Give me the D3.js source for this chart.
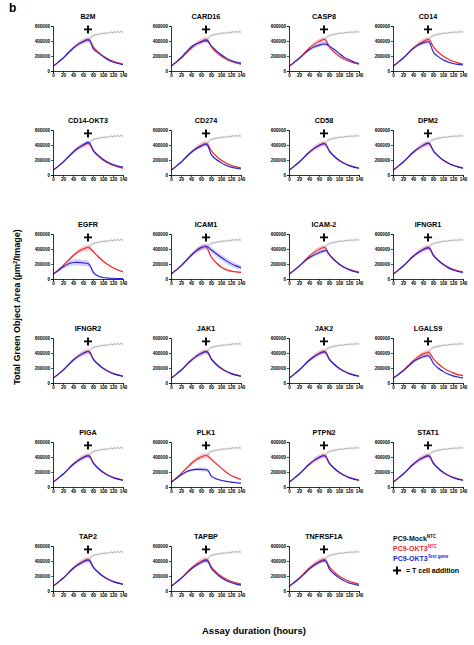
<!DOCTYPE html>
<html>
<head>
<meta charset="utf-8">
<script src="https://cdn.jsdelivr.net/npm/d3@7"></script>
<style>
  body { margin: 0; background: #fff; }
  text { font-family: "Liberation Sans", Arial, sans-serif; }
</style>
</head>
<body>
<div id="chart-area"></div>
<script>
// time points (hours)
var hours = [0, 10, 20, 30, 40, 50, 60, 70, 74, 80, 90, 100, 110, 120, 130, 140];
var mockHours = [0, 10, 20, 30, 40, 50, 60, 70, 72, 74, 76, 78, 80, 82, 84, 86, 88, 90, 92, 94, 96, 98, 100,
                 102, 104, 106, 108, 110, 112, 114, 116, 118, 120, 122, 124, 126, 128, 130, 132, 134, 136, 138, 140];

var xTicks = [0, 20, 40, 60, 80, 100, 120, 140];
var yTicks = [0, 200000, 400000, 600000];
var tCellHour = 70;

// PC9-Mock NTC (grey)
var mockNTC = [62000, 115000, 170000, 235000, 300000, 355000, 395000, 420000, 432000, 426000, 458000, 470000, 462000,
               484000, 472000, 492000, 478000, 496000, 484000, 502000, 488000, 506000, 494000, 512000, 496000, 514000,
               500000, 504000, 520000, 502000, 516000, 522000, 504000, 520000, 528000, 508000, 522000, 530000, 510000,
               524000, 532000, 512000, 526000];

// PC9-OKT3 NTC (red), shared shape + a few panels that differ
var okt3NTC      = [62000, 115000, 170000, 235000, 300000, 355000, 395000, 420000, 405000, 330000, 255000, 200000, 160000, 130000, 108000, 92000];
var okt3NTC_EGFR = [62000, 118000, 178000, 245000, 310000, 365000, 400000, 420000, 410000, 370000, 300000, 240000, 190000, 150000, 120000, 95000];
var okt3NTC_PLK1 = [62000, 118000, 178000, 245000, 310000, 365000, 400000, 420000, 410000, 375000, 315000, 255000, 200000, 155000, 125000, 100000];
var okt3NTC_ICAM1 = [62000, 118000, 175000, 245000, 315000, 375000, 415000, 430000, 390000, 300000, 220000, 160000, 125000, 105000, 95000, 88000];
var okt3NTC_LGALS9 = [62000, 112000, 165000, 228000, 290000, 345000, 385000, 405000, 395000, 330000, 260000, 205000, 165000, 135000, 112000, 98000];

// error (sd) for bands
var sdNTC  = [6000, 9000, 12000, 17000, 22000, 28000, 34000, 36000, 32000, 20000, 15000, 13000, 11000, 10000, 9000, 9000];
var sdTest = [5000, 7000, 9000, 12000, 16000, 20000, 24000, 26000, 24000, 16000, 12000, 10000, 9000, 8000, 7000, 7000];
var sdTest_EGFR  = [6000, 15000, 25000, 35000, 40000, 42000, 42000, 40000, 35000, 20000, 10000, 6000, 4000, 3000, 3000, 3000];
var sdTest_ICAM1 = [6000, 10000, 15000, 20000, 25000, 30000, 32000, 30000, 35000, 38000, 40000, 40000, 40000, 38000, 35000, 32000];

// PC9-OKT3 test gene (blue)
var testB2M      = [62000, 116000, 172000, 240000, 305000, 355000, 390000, 415000, 400000, 300000, 245000, 195000, 150000, 120000, 100000, 85000];
var testCARD16   = [62000, 118000, 178000, 250000, 320000, 360000, 385000, 405000, 395000, 340000, 275000, 220000, 175000, 140000, 120000, 105000];
var testCASP8    = [60000, 112000, 165000, 225000, 280000, 320000, 345000, 360000, 358000, 335000, 290000, 235000, 185000, 150000, 120000, 100000];
var testCD14     = [62000, 115000, 170000, 235000, 298000, 345000, 375000, 390000, 370000, 260000, 195000, 150000, 120000, 100000, 88000, 80000];
var testCD14OKT3 = [62000, 115000, 172000, 238000, 305000, 360000, 400000, 435000, 420000, 335000, 265000, 210000, 170000, 140000, 120000, 105000];
var testCD274    = [62000, 115000, 172000, 238000, 300000, 350000, 385000, 410000, 385000, 280000, 210000, 165000, 130000, 105000, 90000, 80000];
var testCD58     = [62000, 115000, 170000, 235000, 300000, 352000, 392000, 418000, 400000, 325000, 250000, 195000, 155000, 125000, 105000, 90000];
var testDPM2     = [62000, 115000, 170000, 235000, 300000, 352000, 395000, 425000, 410000, 330000, 255000, 200000, 160000, 130000, 108000, 92000];
var testEGFR     = [60000, 110000, 160000, 200000, 220000, 222000, 215000, 205000, 180000, 95000, 40000, 20000, 12000, 9000, 7000, 6000];
var testICAM1    = [62000, 118000, 175000, 245000, 315000, 375000, 420000, 440000, 425000, 390000, 340000, 290000, 245000, 205000, 175000, 150000];
var testICAM2    = [62000, 115000, 168000, 230000, 280000, 320000, 350000, 375000, 380000, 330000, 260000, 200000, 155000, 125000, 100000, 85000];
var testIFNGR1   = [62000, 115000, 170000, 235000, 300000, 350000, 390000, 415000, 400000, 320000, 250000, 195000, 150000, 120000, 100000, 88000];
var testIFNGR2   = [62000, 115000, 172000, 238000, 305000, 355000, 395000, 420000, 405000, 320000, 250000, 195000, 155000, 125000, 105000, 90000];
var testJAK1     = [62000, 115000, 170000, 235000, 300000, 352000, 392000, 418000, 405000, 325000, 250000, 195000, 155000, 125000, 105000, 90000];
var testJAK2     = [62000, 115000, 170000, 235000, 300000, 350000, 390000, 415000, 400000, 320000, 250000, 195000, 155000, 125000, 105000, 90000];
var testLGALS9   = [60000, 110000, 160000, 220000, 280000, 320000, 350000, 365000, 345000, 270000, 200000, 155000, 120000, 95000, 80000, 68000];
var testPIGA     = [62000, 115000, 170000, 235000, 300000, 350000, 390000, 415000, 400000, 325000, 250000, 195000, 155000, 125000, 105000, 90000];
var testPLK1     = [60000, 110000, 160000, 200000, 225000, 235000, 235000, 230000, 220000, 150000, 110000, 90000, 75000, 65000, 57000, 50000];
var testPTPN2    = [62000, 115000, 170000, 235000, 300000, 352000, 392000, 418000, 400000, 320000, 250000, 195000, 155000, 125000, 105000, 90000];
var testSTAT1    = [62000, 115000, 170000, 235000, 300000, 352000, 390000, 415000, 402000, 322000, 250000, 195000, 155000, 125000, 105000, 90000];
var testTAP2     = [62000, 115000, 170000, 235000, 300000, 350000, 388000, 410000, 395000, 320000, 250000, 195000, 155000, 125000, 105000, 90000];
var testTAPBP    = [60000, 112000, 165000, 228000, 290000, 340000, 380000, 405000, 395000, 310000, 235000, 180000, 140000, 112000, 92000, 78000];
var testTNFRSF1A = [58000, 110000, 162000, 225000, 288000, 340000, 380000, 405000, 395000, 300000, 230000, 175000, 135000, 108000, 90000, 75000];

var panels = [
    { name: "B2M",       test: testB2M },
    { name: "CARD16",    test: testCARD16 },
    { name: "CASP8",     test: testCASP8 },
    { name: "CD14",      test: testCD14 },
    { name: "CD14-OKT3", test: testCD14OKT3 },
    { name: "CD274",     test: testCD274 },
    { name: "CD58",      test: testCD58 },
    { name: "DPM2",      test: testDPM2 },
    { name: "EGFR",      test: testEGFR,  ntc: okt3NTC_EGFR, sd: sdTest_EGFR },
    { name: "ICAM1",     test: testICAM1, ntc: okt3NTC_ICAM1, sd: sdTest_ICAM1 },
    { name: "ICAM-2",    test: testICAM2 },
    { name: "IFNGR1",    test: testIFNGR1 },
    { name: "IFNGR2",    test: testIFNGR2 },
    { name: "JAK1",      test: testJAK1 },
    { name: "JAK2",      test: testJAK2 },
    { name: "LGALS9",    test: testLGALS9, ntc: okt3NTC_LGALS9 },
    { name: "PIGA",      test: testPIGA },
    { name: "PLK1",      test: testPLK1,  ntc: okt3NTC_PLK1 },
    { name: "PTPN2",     test: testPTPN2 },
    { name: "STAT1",     test: testSTAT1 },
    { name: "TAP2",      test: testTAP2 },
    { name: "TAPBP",     test: testTAPBP },
    { name: "TNFRSF1A",  test: testTNFRSF1A }
];

var colX = [53, 171, 289, 393];
var plotW = 70;
var plotH = 45;
var firstTop = 26;
var rowStep = 104;

var svg = d3.select("#chart-area")
            .append("svg")
            .attr("width", 474)
            .attr("height", 645);

svg.append("rect").attr("width", 474).attr("height", 645).attr("fill", "#fff");

// panel letter
svg.append("text")
   .attr("x", 9).attr("y", 12)
   .attr("font-size", "12px").attr("font-weight", "bold")
   .text("b");

function drawPanel(p, i)
{
    var col = i % 4;
    var row = Math.floor(i / 4);
    var x0 = colX[col];
    var top = firstTop + row * rowStep;

    var x = d3.scaleLinear().domain([0, 140]).range([x0, x0 + plotW]);
    var y = d3.scaleLinear().domain([0, 600000]).range([top + plotH, top]);

    var g = svg.append("g");

    var ntc = p.ntc || okt3NTC;
    var sdT = p.sd || sdTest;

    var band = d3.area()
                 .x((d) => x(d.t))
                 .y0((d) => y(Math.max(0, d.v - d.s)))
                 .y1((d) => y(d.v + d.s))
                 .curve(d3.curveMonotoneX);
    var line = d3.line()
                 .x((d) => x(d.t))
                 .y((d) => y(d.v))
                 .curve(d3.curveMonotoneX);

    var mockData = mockHours.map((t, k) => ({ t: t, v: mockNTC[k] }));
    var ntcData  = hours.map((t, k) => ({ t: t, v: ntc[k], s: sdNTC[k] }));
    var testData = hours.map((t, k) => ({ t: t, v: p.test[k], s: sdT[k] }));

    // grey mock with little error whiskers
    g.selectAll(".whisk").data(mockData.filter((d) => d.t >= 72))
     .enter().append("line")
     .attr("x1", (d) => x(d.t)).attr("x2", (d) => x(d.t))
     .attr("y1", (d) => y(d.v - 14000)).attr("y2", (d) => y(d.v + 14000))
     .attr("stroke", "#d0d0d0").attr("stroke-width", 0.4);
    g.append("path").datum(mockData)
     .attr("d", d3.line().x((d) => x(d.t)).y((d) => y(d.v)))
     .attr("fill", "none").attr("stroke", "#a0a0a0").attr("stroke-width", 0.7);

    g.append("path").datum(ntcData).attr("d", band)
     .attr("fill", "#f59aa4").attr("fill-opacity", 0.55);
    g.append("path").datum(testData).attr("d", band)
     .attr("fill", "#aaa6f2").attr("fill-opacity", 0.5);

    g.append("path").datum(ntcData).attr("d", line)
     .attr("fill", "none").attr("stroke", "#ee2a2a").attr("stroke-width", 1.1);
    g.append("path").datum(testData).attr("d", line)
     .attr("fill", "none").attr("stroke", "#2525d8").attr("stroke-width", 1.1);

    // axes
    var yAxisCall = d3.axisLeft(y).tickValues(yTicks).tickSize(2).tickPadding(1)
                      .tickFormat(d3.format("d"));
    var xAxisCall = d3.axisBottom(x).tickValues(xTicks).tickSize(2).tickPadding(1);

    var ya = g.append("g").attr("transform", "translate(" + x0 + ",0)").call(yAxisCall);
    var xa = g.append("g").attr("transform", "translate(0," + (top + plotH) + ")").call(xAxisCall);
    [ya, xa].forEach((a) => {
        a.select(".domain").attr("stroke", "#000").attr("stroke-width", 0.8);
        a.selectAll(".tick line").attr("stroke", "#000").attr("stroke-width", 0.7);
        a.selectAll("text").attr("font-size", "4.6px").attr("font-weight", "bold")
         .attr("font-family", "Liberation Sans, Arial, sans-serif").attr("fill", "#000");
    });

    // title
    g.append("text")
     .attr("x", x0 + plotW / 2).attr("y", top - 7)
     .attr("text-anchor", "middle")
     .attr("font-size", "7.2px").attr("font-weight", "bold")
     .text(p.name);

    // T cell addition marker
    var cx = x(tCellHour), cy = y(555000);
    g.append("path")
     .attr("d", "M" + (cx - 4) + "," + cy + "H" + (cx + 4) + "M" + cx + "," + (cy - 4) + "V" + (cy + 4))
     .attr("stroke", "#000").attr("stroke-width", 1.9);
}

panels.forEach(drawPanel);

// Legend
var legX = 393;
var leg = svg.append("g").attr("font-weight", "bold");
var legItems = [
    { label: "PC9-Mock", sup: "NTC", color: "#111", y: 541 },
    { label: "PC9-OKT3", sup: "NTC", color: "#ee2a2a", y: 551 },
    { label: "PC9-OKT3", sup: "Test gene", color: "#2525d8", y: 561 }
];
legItems.forEach((d) => {
    var t = leg.append("text").attr("x", legX).attr("y", d.y)
               .attr("font-size", "7px").attr("fill", d.color);
    t.append("tspan").text(d.label);
    t.append("tspan").attr("dy", -3).attr("font-size", "4.5px").text(d.sup);
});
leg.append("path")
   .attr("d", "M393,570.5H401M397,566.5V574.5")
   .attr("stroke", "#000").attr("stroke-width", 1.9);
leg.append("text").attr("x", 406).attr("y", 573)
   .attr("font-size", "7px").text("= T cell addition");

// Axis titles
svg.append("text")
   .attr("x", 254).attr("y", 634)
   .attr("text-anchor", "middle")
   .attr("font-size", "9.5px").attr("font-weight", "bold")
   .text("Assay duration  (hours)");

var yl = svg.append("text")
   .attr("transform", "translate(20, 307) rotate(-90)")
   .attr("text-anchor", "middle")
   .attr("font-size", "9px").attr("font-weight", "bold");
yl.append("tspan").text("Total Green Object Area (µm");
yl.append("tspan").attr("dy", -3.5).attr("font-size", "6px").text("2");
yl.append("tspan").attr("dy", 3.5).text("/Image)");
</script>
</body>
</html>
